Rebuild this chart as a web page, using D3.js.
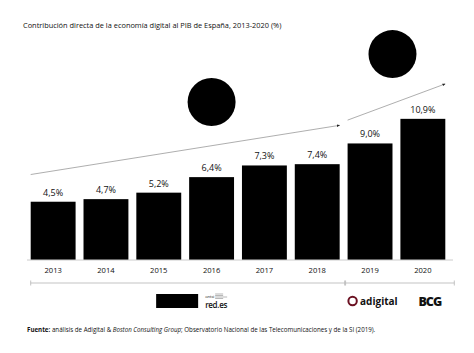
<!DOCTYPE html>
<html>
	<head>
		<script src="https://d3js.org/d3.v7.min.js" charset="utf-8"></script>
		<style>
			body { margin: 0; background: #fff; }
			text { font-family: "Open Sans", sans-serif; fill: #111; }
		</style>
	</head>
	<body>
		<svg id="chart" width="474" height="353"></svg>
		<script>
			// data
			const years = ["2013", "2014", "2015", "2016", "2017", "2018", "2019", "2020"];
			const values = [4.5, 4.7, 5.2, 6.4, 7.3, 7.4, 9.0, 10.9];
			const valueLabels = ["4,5%", "4,7%", "5,2%", "6,4%", "7,3%", "7,4%", "9,0%", "10,9%"];
			// trend arrows: [fromYear, fromValue, toYear, toValue]
			const arrows = [["2013", 6.6, "2018", 10.4], ["2019", 10.8, "2020", 13.6]];
			// placeholder circles above each group: [year, value]
			const circles = [["2016", 12.2], ["2019", 15.9]];
			// year groups for the brackets under the axis
			const groups = [["2013", "2018"], ["2019", "2020"]];

			const svg = d3.select("#chart");

			const x = d3.scaleBand()
				.domain(years)
				.range([27, 449])
				.paddingInner(0.15)
				.paddingOuter(0.07);
			const y = d3.scaleLinear()
				.domain([0, 12])
				.range([260, 104.6]);

			// title
			svg.append("text")
				.attr("x", 23)
				.attr("y", 28)
				.style("font-size", "7.4px")
				.style("font-weight", "500")
				.text("Contribución directa de la economía digital al PIB de España, 2013-2020 (%)");

			// arrow marker
			svg.append("defs").append("marker")
				.attr("id", "head")
				.attr("viewBox", "0 0 10 10")
				.attr("refX", 9).attr("refY", 5)
				.attr("markerWidth", 4).attr("markerHeight", 4)
				.attr("orient", "auto")
				.append("path")
				.attr("d", "M0,1 L10,5 L0,9 z")
				.attr("fill", "#222");

			svg.selectAll("line.trend")
				.data(arrows)
				.enter().append("line")
				.attr("class", "trend")
				.attr("x1", d => x(d[0]))
				.attr("y1", d => y(d[1]))
				.attr("x2", d => x(d[2]) + x.bandwidth())
				.attr("y2", d => y(d[3]))
				.attr("stroke", "#999")
				.attr("stroke-width", 0.8)
				.attr("marker-end", "url(#head)");

			svg.selectAll("circle.blob")
				.data(circles)
				.enter().append("circle")
				.attr("class", "blob")
				.attr("cx", d => d[0] == "2016" ? x(d[0]) + x.bandwidth() / 2 : x(d[0]) + x.bandwidth())
				.attr("cy", d => y(d[1]))
				.attr("r", 24)
				.attr("fill", "#000");

			// bars
			svg.selectAll("rect.bar")
				.data(years)
				.enter().append("rect")
				.attr("class", "bar")
				.attr("x", d => x(d))
				.attr("width", x.bandwidth())
				.attr("y", (d, i) => y(values[i]))
				.attr("height", (d, i) => y(0) - y(values[i]))
				.attr("fill", "#000");

			svg.selectAll("text.val")
				.data(years)
				.enter().append("text")
				.attr("class", "val")
				.attr("x", d => x(d) + x.bandwidth() / 2)
				.attr("y", (d, i) => y(values[i]) - 6)
				.attr("text-anchor", "middle")
				.style("font-size", "9px")
				.style("font-weight", "500")
				.text((d, i) => valueLabels[i]);

			// baseline axis
			const xAxis = d3.axisBottom(x).tickSize(0).tickPadding(8);
			const gx = svg.append("g")
				.attr("transform", `translate(0, ${y(0)})`)
				.call(xAxis);
			gx.select(".domain").attr("stroke", "#ccc").attr("d", `M${x.range()[0]},0H${x.range()[1] + 4}`);
			gx.selectAll(".tick text")
				.style("font-size", "7.6px")
				.style("font-weight", "500")
				.style("font-family", "Open Sans, sans-serif")
				.attr("fill", "#111");

			// brackets
			const by = 283;
			groups.forEach(function (g, i) {
				const x0 = i == 0 ? x(g[0]) : x(g[0]) - 2;
				const x1 = i == 0 ? x(g[1]) + x.bandwidth() + 5 : x(g[1]) + x.bandwidth() + 9;
				const b = svg.append("g").attr("stroke", "#aaa").attr("stroke-width", 0.7);
				b.append("line").attr("x1", x0).attr("x2", x1).attr("y1", by).attr("y2", by);
				b.append("line").attr("x1", x0).attr("x2", x0).attr("y1", by - 2.5).attr("y2", by + 2.5);
				b.append("line").attr("x1", x1).attr("x2", x1).attr("y1", by - 2.5).attr("y2", by + 2.5);
			});

			// logos
			const logoY = 301;
			svg.append("rect")
				.attr("x", x("2016") - 33).attr("y", logoY - 7)
				.attr("width", 42).attr("height", 14)
				.attr("fill", "#000");
			svg.append("text")
				.attr("x", x("2016") + 16).attr("y", logoY - 3)
				.style("font-size", "4px")
				.attr("fill", "#333")
				.text("ontsi");
			const tiny = svg.append("g").attr("stroke", "#888").attr("stroke-width", 0.6);
			[0, 1.5, 3, 4.5].forEach(function (dy, i) {
				tiny.append("line")
					.attr("x1", x("2016") + 26).attr("x2", x("2016") + 26 + (i == 2 ? 12 : 8))
					.attr("y1", logoY - 7 + dy).attr("y2", logoY - 7 + dy);
			});
			svg.append("text")
				.attr("x", x("2016") + 16).attr("y", logoY + 7)
				.style("font-size", "8px")
				.style("font-weight", "600")
				.attr("fill", "#222")
				.attr("letter-spacing", "-0.3")
				.text("red.es");

			svg.append("circle")
				.attr("cx", x("2019") + 5).attr("cy", logoY)
				.attr("r", 4.2)
				.attr("fill", "none")
				.attr("stroke", "#6b1122")
				.attr("stroke-width", 2);
			svg.append("text")
				.attr("x", x("2019") + 12.5).attr("y", logoY + 3.5)
				.style("font-size", "10px")
				.style("font-weight", "700")
				.attr("fill", "#222")
				.text("adigital");
			svg.append("text")
				.attr("x", x("2020") + 18).attr("y", logoY + 4.5)
				.style("font-size", "12.5px")
				.style("font-weight", "800")
				.attr("letter-spacing", "-1")
				.attr("fill", "#111")
				.text("BCG");

			// source
			const src = svg.append("text")
				.attr("x", 27).attr("y", 332)
				.style("font-size", "6.2px");
			src.append("tspan").style("font-weight", "700").text("Fuente: ");
			src.append("tspan").text("análisis de Adigital & ");
			src.append("tspan").style("font-style", "italic").text("Boston Consulting Group");
			src.append("tspan").text("; Observatorio Nacional de las Telecomunicaciones y de la SI (2019).");
		</script>
	</body>
</html>
